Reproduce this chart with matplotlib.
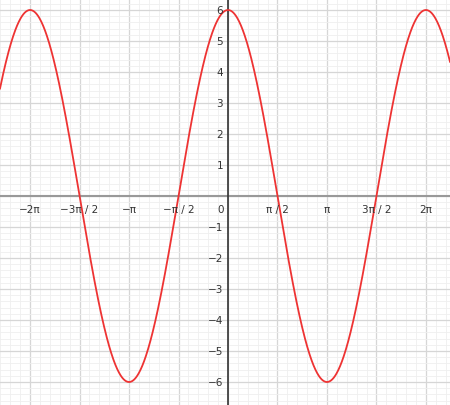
import numpy as np
import matplotlib.pyplot as plt
from matplotlib.ticker import MultipleLocator

amplitude = 6
x_ticks = [-2, -1.5, -1, -0.5, 0.5, 1, 1.5, 2]
x_labels = ["\u22122\u03c0", "\u22123\u03c0 / 2", "\u2212\u03c0", "\u2212\u03c0 / 2",
            "\u03c0 / 2", "\u03c0", "3\u03c0 / 2", "2\u03c0"]
y_ticks = [-6, -5, -4, -3, -2, -1, 1, 2, 3, 4, 5, 6]

fig = plt.figure(figsize=(4.5, 4.06), dpi=100)
ax = fig.add_axes([0, 0, 1, 1])
x0, x1 = -228 / 31.5, 222 / 31.5
y0, y1 = -209 / 31, 197 / 31
ax.set_xlim(x0, x1)
ax.set_ylim(y0, y1)

ax.xaxis.set_major_locator(MultipleLocator(np.pi / 2))
ax.xaxis.set_minor_locator(MultipleLocator(np.pi / 10))
ax.yaxis.set_major_locator(MultipleLocator(1))
ax.yaxis.set_minor_locator(MultipleLocator(0.2))
ax.grid(which='major', color='#d6d6d6', lw=0.9)
ax.grid(which='minor', color='#efefef', lw=0.6)
ax.set_axisbelow(True)
ax.tick_params(which='both', length=0, labelbottom=False, labelleft=False)
for s in ax.spines.values():
    s.set_visible(False)

ax.axhline(0, color='#999999', lw=1.5)
ax.axvline(0, color='#333333', lw=1.2)

x = np.linspace(x0, x1, 1000)
ax.plot(x, amplitude * np.cos(x), color='#ee3333', lw=1.3)

for t, lab in zip(x_ticks, x_labels):
    ax.text(t * np.pi, -0.25, lab, ha='center', va='top', fontsize=7.5, color='#333333')
ax.text(-0.12, -0.25, "0", ha='right', va='top', fontsize=7.5, color='#333333')
for v in y_ticks:
    ax.text(-0.15, v, "\u2212%d" % -v if v < 0 else str(v), ha='right', va='center',
            fontsize=7.5, color='#333333')

fig.savefig("out.png")
